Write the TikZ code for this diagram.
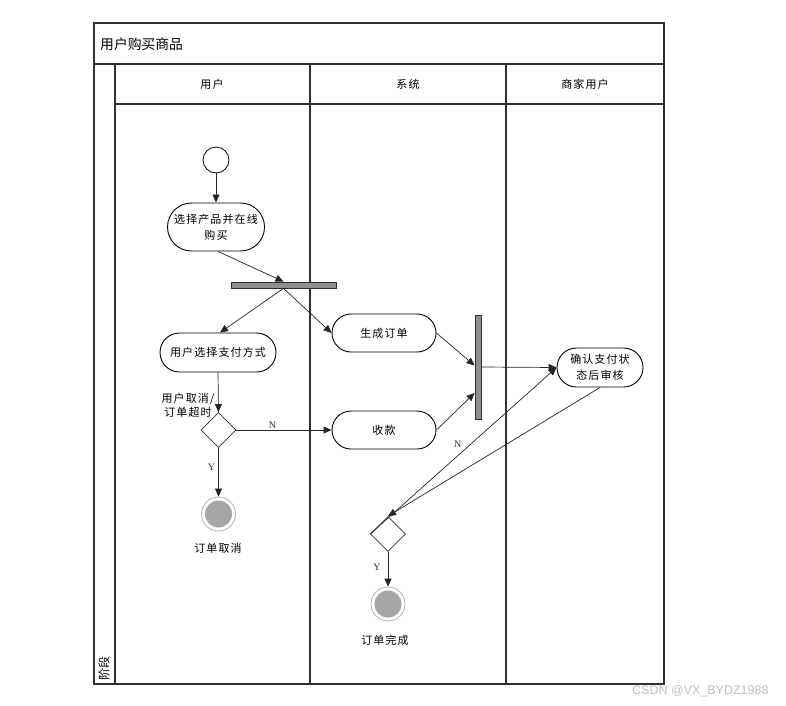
\documentclass[tikz,border=0pt]{standalone}
\usepackage{fontspec}
\setmainfont{Noto Sans CJK SC}
\newfontfamily\latserif{Liberation Serif}
\newfontfamily\latsans{Liberation Sans}
\newfontfamily\cjkwide[LetterSpace=10]{Noto Sans CJK SC}
\usetikzlibrary{arrows.meta,shapes.geometric,shapes.misc}

\definecolor{framegray}{HTML}{303030}
\definecolor{bargray}{HTML}{8E8E8E}
\definecolor{endgray}{HTML}{A6A6A6}
\definecolor{labelnavy}{HTML}{1E2F5A}

\tikzset{
  frameline/.style={draw=framegray, line width=1.2pt},
  act/.style={rounded rectangle, draw=black, line width=0.9pt, fill=white,
    align=center, font=\cjkwide\fontsize{11}{16}\selectfont, inner sep=0pt},
  bar/.style={rectangle, draw=framegray, fill=bargray, line width=0.8pt, inner sep=0pt},
  decision/.style={diamond, draw=black!80, line width=0.8pt, fill=white,
    inner sep=0pt, minimum width=35pt, minimum height=35pt},
  startnode/.style={circle, draw=black, line width=0.8pt, fill=white,
    minimum size=26pt, inner sep=0pt},
  endnode/.style={circle, draw=black!30, line width=0.8pt, fill=white,
    minimum size=34pt, inner sep=0pt,
    path picture={\fill[endgray] (path picture bounding box.center) circle (13.5pt);}},
  arr/.style={draw=black!85, line width=0.7pt, -{Triangle[length=8pt,width=7pt]}},
  yn/.style={font=\latserif\fontsize{10}{10}\selectfont, text=labelnavy, inner sep=1pt},
  lanetext/.style={font=\cjkwide\fontsize{11}{13}\selectfont, inner sep=0pt},
  caption/.style={font=\cjkwide\fontsize{11}{13}\selectfont, inner sep=0pt}
}

\begin{document}
\begin{tikzpicture}[x=1pt, y=-1pt]
\useasboundingbox (0,0) rectangle (786,705);

% swimlane frame
\draw[frameline] (94,23) rectangle (664,684);
\draw[frameline] (94,64) -- (664,64);
\draw[frameline] (115,64) -- (115,684);
\draw[frameline] (115,104) -- (664,104);
\draw[frameline] (310,64) -- (310,684);
\draw[frameline] (506,64) -- (506,684);

\node[anchor=west, font=\fontsize{13.8}{15}\selectfont, inner sep=0pt] (title) at (100,44) {用户购买商品};
\node[lanetext] (laneA) at (212,84) {用户};
\node[lanetext] (laneB) at (408,84) {系统};
\node[lanetext] (laneC) at (585,84) {商家用户};
\node[rotate=90, font=\fontsize{12}{14}\selectfont, inner sep=0pt] (stage) at (104,668) {阶段};

% activity nodes
\node[startnode] (start) at (216,160) {};
\node[act, minimum width=97pt, minimum height=48pt] (buy) at (216,227) {选择产品并在线\\购买};
\node[bar, minimum width=105pt, minimum height=6pt] (fork) at (283.5,285) {};
\node[act, minimum width=116pt, minimum height=39pt] (pay) at (218,352.5) {用户选择支付方式};
\node[act, minimum width=104pt, minimum height=38pt] (order) at (384,333) {生成订单};
\node[decision] (d1) at (218.5,430) {};
\node[caption, align=center, font=\cjkwide\fontsize{11}{14}\selectfont] (cancel) at (188,405) {用户取消/\\订单超时};
\node[act, minimum width=104pt, minimum height=38pt] (recv) at (384,430) {收款};
\node[endnode] (end1) at (218.5,514) {};
\node[caption] (end1txt) at (218,548) {订单取消};
\node[bar, minimum width=6pt, minimum height=104pt] (join) at (478,367) {};
\node[act, minimum width=86pt, minimum height=39pt] (conf) at (600,367.5) {确认支付状\\态后审核};
\node[decision] (d2) at (388,534) {};
\node[endnode] (end2) at (388,604) {};
\node[caption] (end2txt) at (385,640) {订单完成};

% connectors
\draw[arr] (start) -- (buy);
\draw[arr] ([xshift=2pt]buy.south) -- (fork.north);
\draw[arr] (fork.south) -- ([xshift=2pt]pay.north);
\draw[arr] (fork.south) -- (order.west);
\draw[arr] (pay.south) -- (d1.north);
\draw[arr] (d1.east) -- node[yn, pos=0.38, above] {N} (recv.west);
\draw[arr] (d1.south) -- node[yn, pos=0.4, left=2pt] {Y} (end1.north);
\draw[arr] (order.east) -- ([yshift=1.5pt]join.west);
\draw[arr] (recv.east) -- ([yshift=-26pt]join.west);
\draw[arr] (join.east) -- (conf.west);
\draw[arr] (d2.west) -- node[yn, pos=0.47, above=7pt] {N} (conf.west);
\draw[arr] (conf.south) -- (d2.north);
\draw[arr] (d2.south) -- node[yn, pos=0.45, left=6pt] {Y} (end2.north);

% watermark
\node[anchor=west, font=\latsans\fontsize{12.5}{14}\selectfont, text=black!25, inner sep=0pt] (mark) at (632,691) {CSDN @VX\_BYDZ1988};
\end{tikzpicture}
\end{document}
